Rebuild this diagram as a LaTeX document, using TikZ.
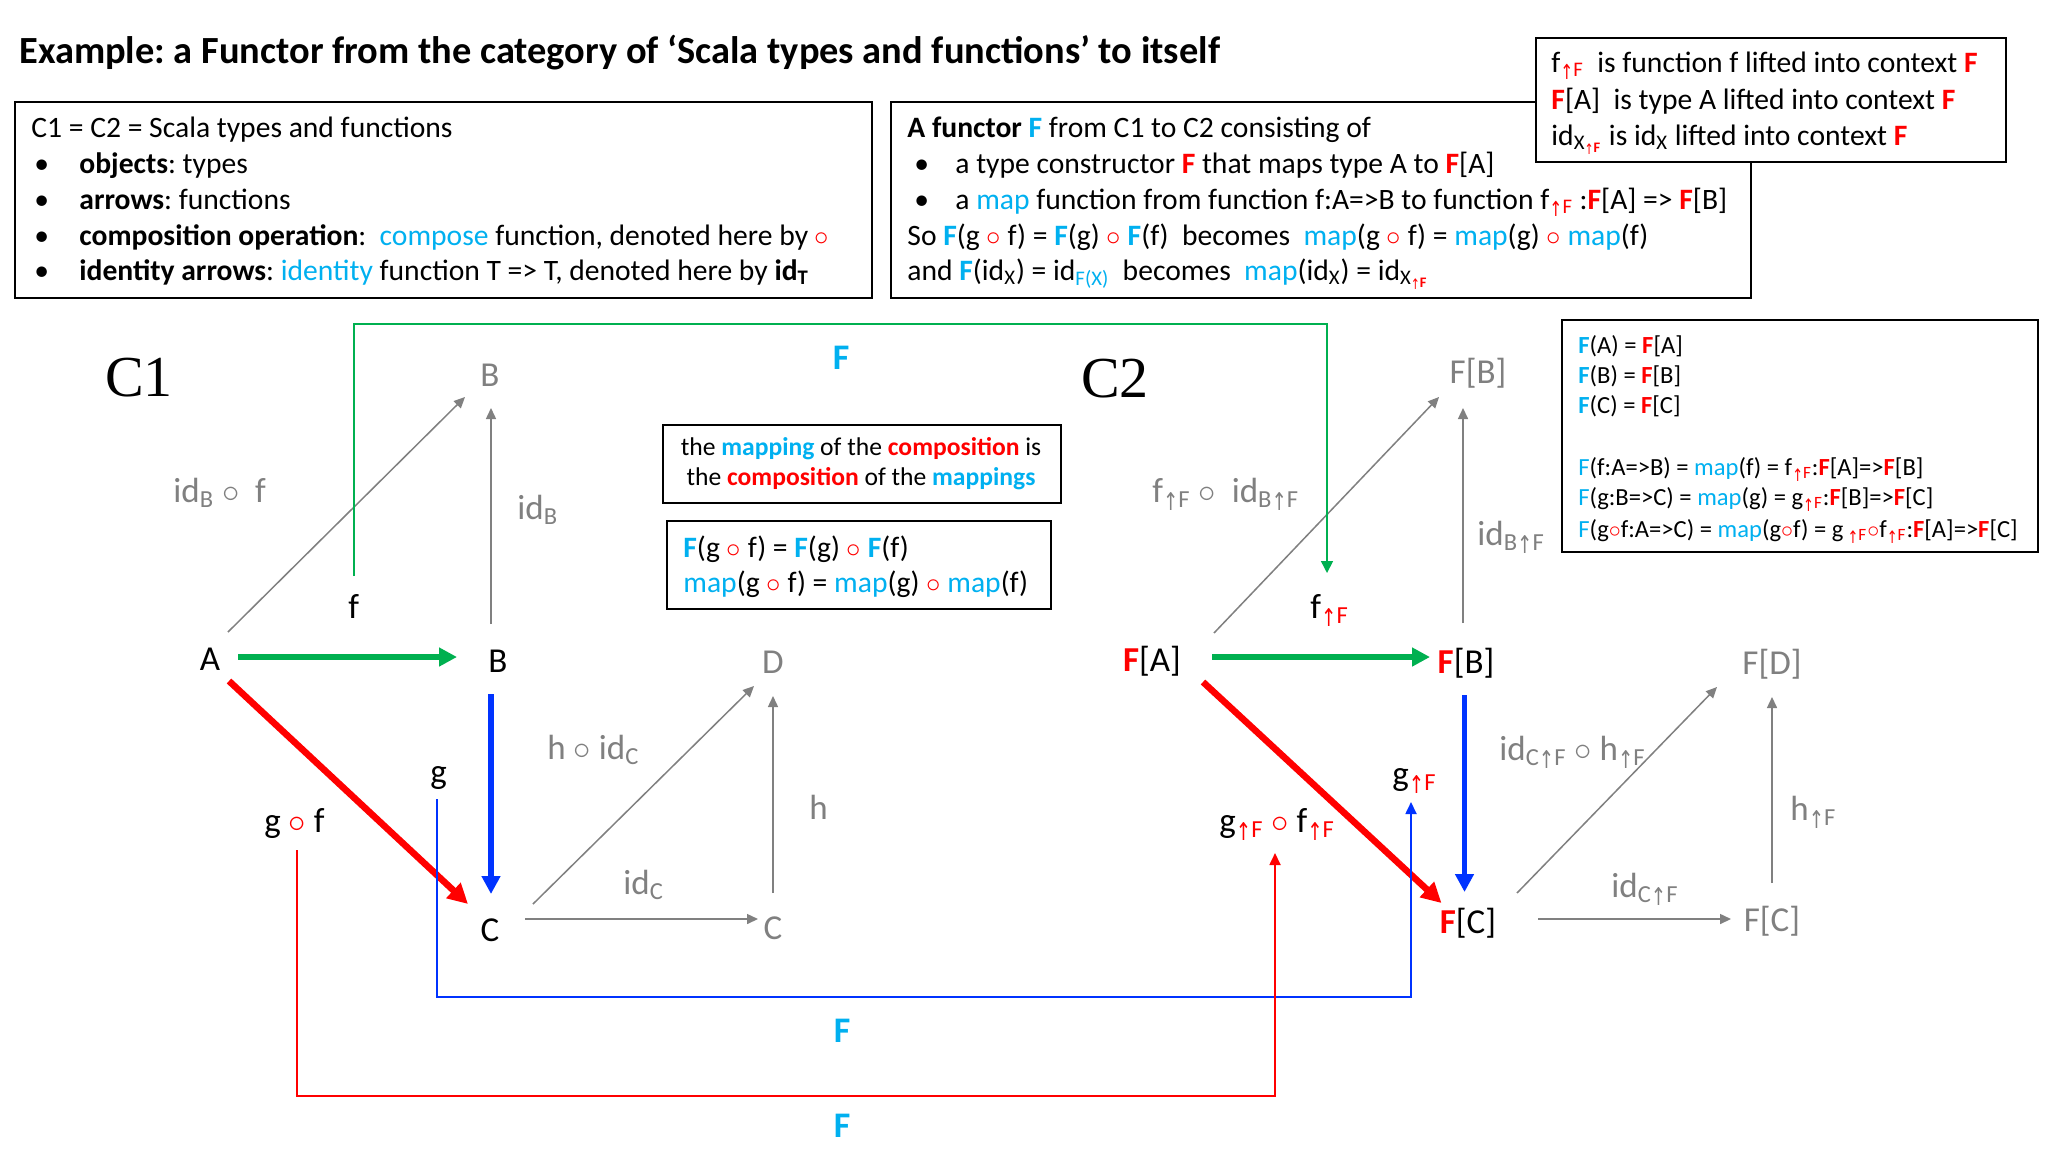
\documentclass[tikz,border=0pt]{standalone}
\usepackage{fontspec}
\setmainfont{Carlito}
\newfontfamily\serifC{Liberation Serif}
\newfontfamily\symfont{DejaVu Sans}
\usetikzlibrary{arrows.meta,calc}
\definecolor{fcyan}{RGB}{0,176,240}
\definecolor{fred}{RGB}{255,0,0}
\definecolor{fgreen}{RGB}{0,176,80}
\definecolor{fblue}{RGB}{0,51,255}
\definecolor{fgray}{RGB}{128,128,128}
\newcommand\uarr{\raisebox{-0.3ex}{\scalebox{0.75}[1]{\symfont ↑}}}
\newcommand\cF{\textcolor{fcyan}{\textbf{F}}}
\newcommand\rF{\textcolor{fred}{\textbf{F}}}
\newcommand\cy[1]{\textcolor{fcyan}{#1}}
\newcommand\rc{\textcolor{fred}{$\circ$}}
\newcommand\upF{\textsubscript{\textcolor{fred}{\uarr F}}}
\newcommand\upbF{\textsubscript{\textcolor{fred}{\uarr\textbf{F}}}}
\newcommand\bul[1]{\makebox[#1][l]{•}}
\tikzset{
  boxst/.style={draw=black, line width=0.8pt, fill=white, inner sep=0pt, anchor=north west},
  txt/.style={inner sep=0pt, anchor=base west, font=\fontsize{14.8}{18}\selectfont},
  smtxt/.style={inner sep=0pt, anchor=base west, font=\fontsize{12.3}{15}\selectfont},
  midtxt/.style={inner sep=0pt, anchor=base, font=\fontsize{12.8}{15}\selectfont},
  obj/.style={inner sep=0pt, anchor=base, font=\fontsize{17.5}{21}\selectfont},
  gobj/.style={obj, text=fgray},
  lbl/.style={inner sep=0pt, anchor=base west, font=\fontsize{17.5}{21}\selectfont},
  glbl/.style={lbl, text=fgray},
  flbl/.style={inner sep=0pt, anchor=base, font=\fontsize{18}{21}\selectfont\bfseries, text=fcyan},
  catlbl/.style={inner sep=0pt, anchor=base, font=\fontsize{29}{32}\selectfont\serifC},
  garr/.style={draw=fgray, line width=0.75pt, -{Triangle[length=5.5pt,width=5pt]}},
  greenarr/.style={draw=fgreen, line width=2.8pt, -{Triangle[length=9pt,width=9pt]}},
  bluearr/.style={draw=fblue, line width=2.9pt, -{Triangle[length=9pt,width=9pt]}},
  redarr/.style={draw=fred, line width=3.3pt, -{Triangle[length=10pt,width=10pt]}},
  gcon/.style={draw=fgreen, line width=0.8pt, -{Triangle[length=6pt,width=6pt]}},
  bcon/.style={draw=fblue, line width=0.9pt, -{Triangle[length=6pt,width=5.5pt]}},
  rcon/.style={draw=fred, line width=0.9pt, -{Triangle[length=6pt,width=5.5pt]}}
}
\begin{document}
\frenchspacing
\begin{tikzpicture}[x=0.5pt,y=-0.5pt]
\fill[white] (0,0) rectangle (2048,1152);
\useasboundingbox (0,0) rectangle (2048,1152);

% title
\node[inner sep=0pt, anchor=base west, font=\fontsize{19.2}{22}\selectfont\bfseries] (title) at (19,63)
  {Example: a Functor from the category of ‘Scala types and functions’ to itself};

% box 1
\node[boxst, minimum width=428.5pt, minimum height=98pt] (box1) at (14,101) {};
\node[txt] (b1l1) at (31,137) {C1 = C2 = Scala types and functions};
\node[txt] (b1l2) at (34,173) {\bul{22.5pt}\textbf{objects}: types};
\node[txt] (b1l3) at (34,209) {\bul{22.5pt}\textbf{arrows}: functions};
\node[txt] (b1l4) at (34,245) {\bul{22.5pt}\textbf{composition operation}:\ \ \cy{compose} function, denoted here by \rc};
\node[txt] (b1l5) at (34,280) {\bul{22.5pt}\textbf{identity arrows}: \cy{identity} function T => T, denoted here by \textbf{id\textsubscript{T}}};

% box 2
\node[boxst, minimum width=430pt, minimum height=98pt] (box2) at (890,101) {};
\node[txt] (b2l1) at (907,137) {\textbf{A functor} \cF{} from C1 to C2 consisting of};
\node[txt] (b2l2) at (914,173) {\bul{20.5pt}a type constructor \rF{} that maps type A to \rF[A]};
\node[txt] (b2l3) at (914,209) {\bul{20.5pt}a \cy{map} function from function f:A=>B to function f\upF\ :\rF[A] => \rF[B]};
\node[txt] (b2l4) at (907,245) {So \cF(g \rc{} f) = \cF(g) \rc{} \cF(f)\ \ becomes\ \ \cy{map}(g \rc{} f) = \cy{map}(g) \rc{} \cy{map}(f)};
\node[txt] (b2l5) at (907,280) {and \cF(id\textsubscript{X}) = id\textsubscript{\cy{F(X)}}\ \ becomes\ \ \cy{map}(id\textsubscript{X}) = id\textsubscript{X\upbF}};

% box 3
\node[boxst, minimum width=235pt, minimum height=62pt] (box3) at (1535,37) {};
\node[txt] (b3l1) at (1551,72) {f\upF\ \ is function f lifted into context \rF};
\node[txt] (b3l2) at (1551,109) {\rF[A]\ \ is type A lifted into context \rF};
\node[txt] (b3l3) at (1551,145) {id\textsubscript{X\upbF} is id\textsubscript{X} lifted into context \rF};

% box 4
\node[boxst, minimum width=238pt, minimum height=116pt] (box4) at (1561,319) {};
\node[smtxt] (b4l1) at (1578,353) {\cF(A) = \rF[A]};
\node[smtxt] (b4l2) at (1578,383) {\cF(B) = \rF[B]};
\node[smtxt] (b4l3) at (1578,413) {\cF(C) = \rF[C]};
\node[smtxt] (b4l4) at (1578,475) {\cy{F}(f:A=>B) = \cy{map}(f) = f\upF:\rF[A]=>\rF[B]};
\node[smtxt] (b4l5) at (1578,505) {\cy{F}(g:B=>C) = \cy{map}(g) = g\upF:\rF[B]=>\rF[C]};
\node[smtxt] (b4l6) at (1578,537) {\cy{F}(g\rc f:A=>C) = \cy{map}(g\rc f) = g\,\upF\rc f\upF:\rF[A]=>\rF[C]};

% box 5
\node[boxst, minimum width=199pt, minimum height=39pt] (box5) at (662,424) {};
\node[midtxt] (b5l1) at (861,455) {the \textcolor{fcyan}{\textbf{mapping}} of the \textcolor{fred}{\textbf{composition}} is};
\node[midtxt] (b5l2) at (861,485) {the \textcolor{fred}{\textbf{composition}} of the \textcolor{fcyan}{\textbf{mappings}}};

% box 6
\node[boxst, minimum width=192pt, minimum height=44pt] (box6) at (666,520) {};
\node[txt] (b6l1) at (683,557) {\cF(g \rc{} f) = \cF(g) \rc{} \cF(f)};
\node[txt] (b6l2) at (683,592) {\cy{map}(g \rc{} f) = \cy{map}(g) \rc{} \cy{map}(f)};

% category labels
\node[catlbl] (C1) at (139,396) {C1};
\node[catlbl] (C2) at (1115,397) {C2};

% left objects
\node[obj] (A) at (210,670) {A};
\node[obj] (B) at (498,672) {B};
\node[obj] (C) at (490,941) {C};
\node[gobj] (Bt) at (490,386) {B};
\node[gobj] (D) at (773,673) {D};
\node[gobj] (Cg) at (773,939) {C};

% right objects
\node[obj] (FA) at (1152,671) {\rF[A]};
\node[obj] (FB) at (1466,673) {\rF[B]};
\node[obj] (FC) at (1468,933) {\rF[C]};
\node[gobj] (FBt) at (1478,383) {F[B]};
\node[gobj] (FD) at (1772,674) {F[D]};
\node[gobj] (FCg) at (1772,931) {F[C]};

% left labels
\node[glbl] (lidBf) at (173,502) {id\textsubscript{B} $\circ$\ \ f};
\node[glbl] (lidB) at (517,519) {id\textsubscript{B}};
\node[lbl] (lf) at (348,618) {f};
\node[lbl] (lg) at (430,783) {g};
\node[lbl] (lgf) at (264,832) {g \rc\ f};
\node[glbl] (lhid) at (547,759) {h $\circ$ id\textsubscript{C}};
\node[glbl] (lh) at (809,819) {h};
\node[glbl] (lidC) at (623,894) {id\textsubscript{C}};

% right labels
\node[glbl] (lfid) at (1152,502) {f\textsubscript{\uarr F} $\circ$\ \ id\textsubscript{B\uarr F}};
\node[glbl] (lidBF) at (1477,545) {id\textsubscript{B\uarr F}};
\node[lbl] (lfF) at (1310,618) {f\upF};
\node[lbl] (lgF) at (1392,785) {g\upF};
\node[lbl] (lgfF) at (1219,832) {g\upF\ \rc\ f\upF};
\node[glbl] (lidh) at (1499,760) {id\textsubscript{C\uarr F} $\circ$ h\textsubscript{\uarr F}};
\node[glbl] (lhF) at (1790,820) {h\textsubscript{\uarr F}};
\node[glbl] (lidCF) at (1611,897) {id\textsubscript{C\uarr F}};

% F labels
\node[flbl] (F1) at (841,369) {F};
\node[flbl] (F2) at (842,1042) {F};
\node[flbl] (F3) at (842,1137) {F};

% left arrows
\draw[garr] ($(A.base)+(18,-38)$) -- ($(Bt.base)+(-25,11)$);
\draw[garr] ($(B.base)+(-7,-48)$) -- ($(Bt.base)+(1,22)$);
\draw[garr] ($(C.base)+(43,-37)$) -- ($(D.base)+(-19,13)$);
\draw[garr] ($(C.base)+(35,-22)$) -- ($(Cg.base)+(-15,-20)$);
\draw[garr] ($(Cg.base)+(0,-46)$) -- ($(D.base)+(0,23)$);
\draw[greenarr] ($(A.base)+(28,-13)$) -- ($(B.base)+(-41,-15)$);
\draw[bluearr] ($(B.base)+(-7,22)$) -- ($(C.base)+(1,-47)$);
\draw[redarr] ($(A.base)+(19,11)$) -- ($(C.base)+(-22,-37)$);

% right arrows
\draw[garr] ($(FA.base)+(62,-38)$) -- ($(FBt.base)+(-39,14)$);
\draw[garr] ($(FB.base)+(-3,-50)$) -- ($(FBt.base)+(-15,25)$);
\draw[garr] ($(FC.base)+(49,-40)$) -- ($(FD.base)+(-55,13)$);
\draw[garr] ($(FC.base)+(70,-14)$) -- ($(FCg.base)+(-41,-12)$);
\draw[garr] ($(FCg.base)+(0,-48)$) -- ($(FD.base)+(0,23)$);
\draw[greenarr] ($(FA.base)+(60,-14)$) -- ($(FB.base)+(-36,-16)$);
\draw[bluearr] ($(FB.base)+(-1.5,22)$) -- ($(FC.base)+(-3.5,-41)$);
\draw[redarr] ($(FA.base)+(51,11)$) -- ($(FC.base)+(-26.5,-30)$);

% functor connectors
\coordinate (cg) at (800,324);
\coordinate (cb) at (800,997);
\coordinate (cr) at (800,1096);
\draw[gcon] ($(lf.base west)+(6,-42)$) |- (cg) -| ($(lfF.base west)+(17,-45)$);
\draw[bcon] ($(lg.base west)+(7,16)$) |- (cb) -| ($(lgF.base west)+(19,17)$);
\draw[rcon] ($(lgf.base west)+(33,18)$) |- (cr) -| ($(lgfF.base west)+(56,21)$);
\end{tikzpicture}
\end{document}
